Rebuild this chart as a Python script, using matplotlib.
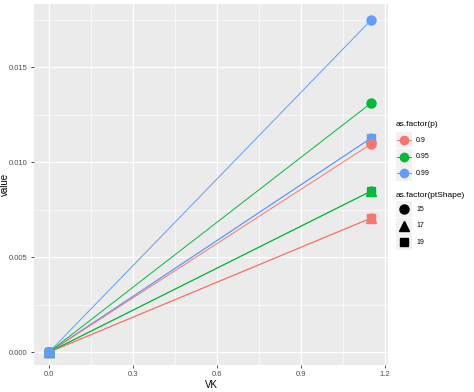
import matplotlib.pyplot as plt
from matplotlib.patches import Rectangle
from matplotlib.lines import Line2D

vk = [0.0, 1.15]
p_levels = ["0.9", "0.95", "0.99"]
p_colors = ["#F8766D", "#00BA38", "#619CFF"]
# end values at VK=1.15 for each ptShape, origin is 0
val_15 = [0.01095, 0.0131, 0.01747]   # circle
val_17 = [0.00705, 0.00847, 0.01126]  # triangle
val_19 = [0.00705, 0.00847, 0.01126]  # square
shape_levels = ["15", "17", "19"]
shape_markers = ["o", "^", "s"]
marker_sizes = {"o": 6.5, "^": 6.5, "s": 5.3}

plt.rcParams["font.family"] = "Liberation Sans"

fig = plt.figure(figsize=(4.74, 3.92), dpi=100)
ax = fig.add_axes([34 / 474, 27 / 392, 354 / 474, 361 / 392])
ax.set_facecolor("#EBEBEB")
for s in ax.spines.values():
    s.set_visible(False)

ax.set_xlim(-0.054, 1.2107)
ax.set_ylim(-0.00068, 0.01832)
ax.set_xticks([0.0, 0.3, 0.6, 0.9, 1.2])
ax.set_xticks([0.15, 0.45, 0.75, 1.05], minor=True)
ax.set_yticks([0.0, 0.005, 0.010, 0.015])
ax.set_yticks([0.0025, 0.0075, 0.0125, 0.0175], minor=True)
ax.set_xticklabels(["0.0", "0.3", "0.6", "0.9", "1.2"])
ax.set_yticklabels(["0.000", "0.005", "0.010", "0.015"])
ax.grid(True, which="major", color="white", linewidth=0.9)
ax.grid(True, which="minor", color="white", linewidth=0.45)
ax.set_axisbelow(True)
ax.tick_params(which="major", length=2.5, width=0.6, color="#333333",
               labelsize=5.5, labelcolor="#4D4D4D", pad=2)
ax.tick_params(which="minor", length=0)
ax.set_xlabel("VK", fontsize=7, labelpad=1)
ax.set_ylabel("value", fontsize=7)
ax.yaxis.set_label_coords(-0.068, 0.5)

for vals, mk in [(val_19, "s"), (val_17, "^"), (val_15, "o")]:
    for i, c in enumerate(p_colors):
        ax.plot(vk, [0.0, vals[i]], color=c, linewidth=0.7,
                marker=mk, markersize=marker_sizes[mk], zorder=3)

# legend drawn by hand in its own axes
lax = fig.add_axes([388 / 474, 0, 86 / 474, 1])
lax.set_xlim(0, 86)
lax.set_ylim(392, 0)
lax.axis("off")

lax.text(8, 124, "as.factor(p)", fontsize=6, va="center", ha="left")
for i, (lab, c) in enumerate(zip(p_levels, p_colors)):
    y = 140 + i * 16.5
    lax.add_patch(Rectangle((8, y - 8), 16, 16, facecolor="#F2F2F2", edgecolor="none"))
    lax.add_line(Line2D([9, 23], [y, y], color=c, linewidth=0.7))
    lax.plot([16], [y], marker="o", color=c, markersize=6)
    lax.text(28, y, lab, fontsize=5, va="center", ha="left")

lax.text(8, 195, "as.factor(ptShape)", fontsize=6, va="center", ha="left")
for i, (lab, mk) in enumerate(zip(shape_levels, shape_markers)):
    y = 209 + i * 16.5
    lax.add_patch(Rectangle((8, y - 8), 16, 16, facecolor="#F2F2F2", edgecolor="none"))
    lax.plot([16], [y], marker=mk, color="black", markersize=marker_sizes[mk])
    lax.text(28, y, lab, fontsize=5, va="center", ha="left")

fig.savefig("out.png", dpi=100)
